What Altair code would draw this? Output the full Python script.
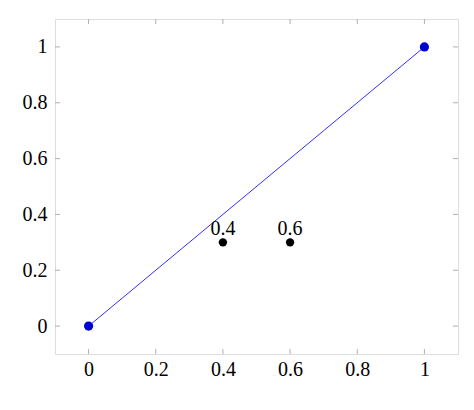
import altair as alt
import pandas as pd

line_x = [0, 1]
line_y = [0, 1]
pt_x = [0.4, 0.6]
pt_y = [0.3, 0.3]
pt_label = ["0.4", "0.6"]
tick_vals = [0, 0.2, 0.4, 0.6, 0.8, 1]

W, H = 403, 335
FONT = "Liberation Serif"
FS = 20

line_df = pd.DataFrame({"x": line_x, "y": line_y})
pt_df = pd.DataFrame({"x": pt_x, "y": pt_y, "label": pt_label})
tk_df = pd.DataFrame({"v": tick_vals})

xs = alt.Scale(domain=[-0.1, 1.1], nice=False, zero=False)
ys = alt.Scale(domain=[-0.1, 1.1], nice=False, zero=False)
lexpr = "datum.value == 0 ? '0' : datum.value == 1 ? '1' : format(datum.value, '.1f')"
xax = alt.Axis(values=tick_vals, labelExpr=lexpr, labelPadding=5)
yax = alt.Axis(values=tick_vals, labelExpr=lexpr, labelPadding=8)

line = alt.Chart(line_df).mark_line(color="#3030ff", strokeWidth=1).encode(
    x=alt.X("x:Q", scale=xs, axis=xax), y=alt.Y("y:Q", scale=ys, axis=yax))
dots = alt.Chart(line_df).mark_circle(color="#0000d0", size=85, opacity=1).encode(
    x=alt.X("x:Q", scale=xs), y=alt.Y("y:Q", scale=ys))
bpts = alt.Chart(pt_df).mark_circle(color="black", size=70, opacity=1).encode(
    x=alt.X("x:Q", scale=xs), y=alt.Y("y:Q", scale=ys))
lbl = alt.Chart(pt_df).mark_text(font=FONT, fontSize=FS, baseline="alphabetic", dy=-7, color="black").encode(
    x=alt.X("x:Q", scale=xs), y=alt.Y("y:Q", scale=ys), text="label:N")

tc = "#b0b0b0"
xt_bot = alt.Chart(tk_df).mark_rule(color=tc, strokeWidth=1).encode(
    x=alt.X("v:Q", scale=xs), y=alt.value(H - 5), y2=alt.value(H))
xt_top = alt.Chart(tk_df).mark_rule(color=tc, strokeWidth=1).encode(
    x=alt.X("v:Q", scale=xs), y=alt.value(0), y2=alt.value(5))
yt_left = alt.Chart(tk_df).mark_rule(color=tc, strokeWidth=1).encode(
    y=alt.Y("v:Q", scale=ys), x=alt.value(0), x2=alt.value(5))
yt_right = alt.Chart(tk_df).mark_rule(color=tc, strokeWidth=1).encode(
    y=alt.Y("v:Q", scale=ys), x=alt.value(W - 5), x2=alt.value(W))

chart = alt.layer(line, xt_bot, xt_top, yt_left, yt_right, dots, bpts, lbl).properties(
    width=W, height=H,
    autosize=alt.AutoSizeParams(type="none"),
    padding={"left": 47, "top": 11, "right": 8, "bottom": 50},
).configure_view(stroke="#444444", strokeWidth=1.2).configure(background="white").configure_axis(
    ticks=False, domain=False, grid=False, title=None,
    labelFont=FONT, labelFontSize=FS, labelColor="black")

chart.save("out.html", embed_options={"renderer": "svg", "actions": False})
